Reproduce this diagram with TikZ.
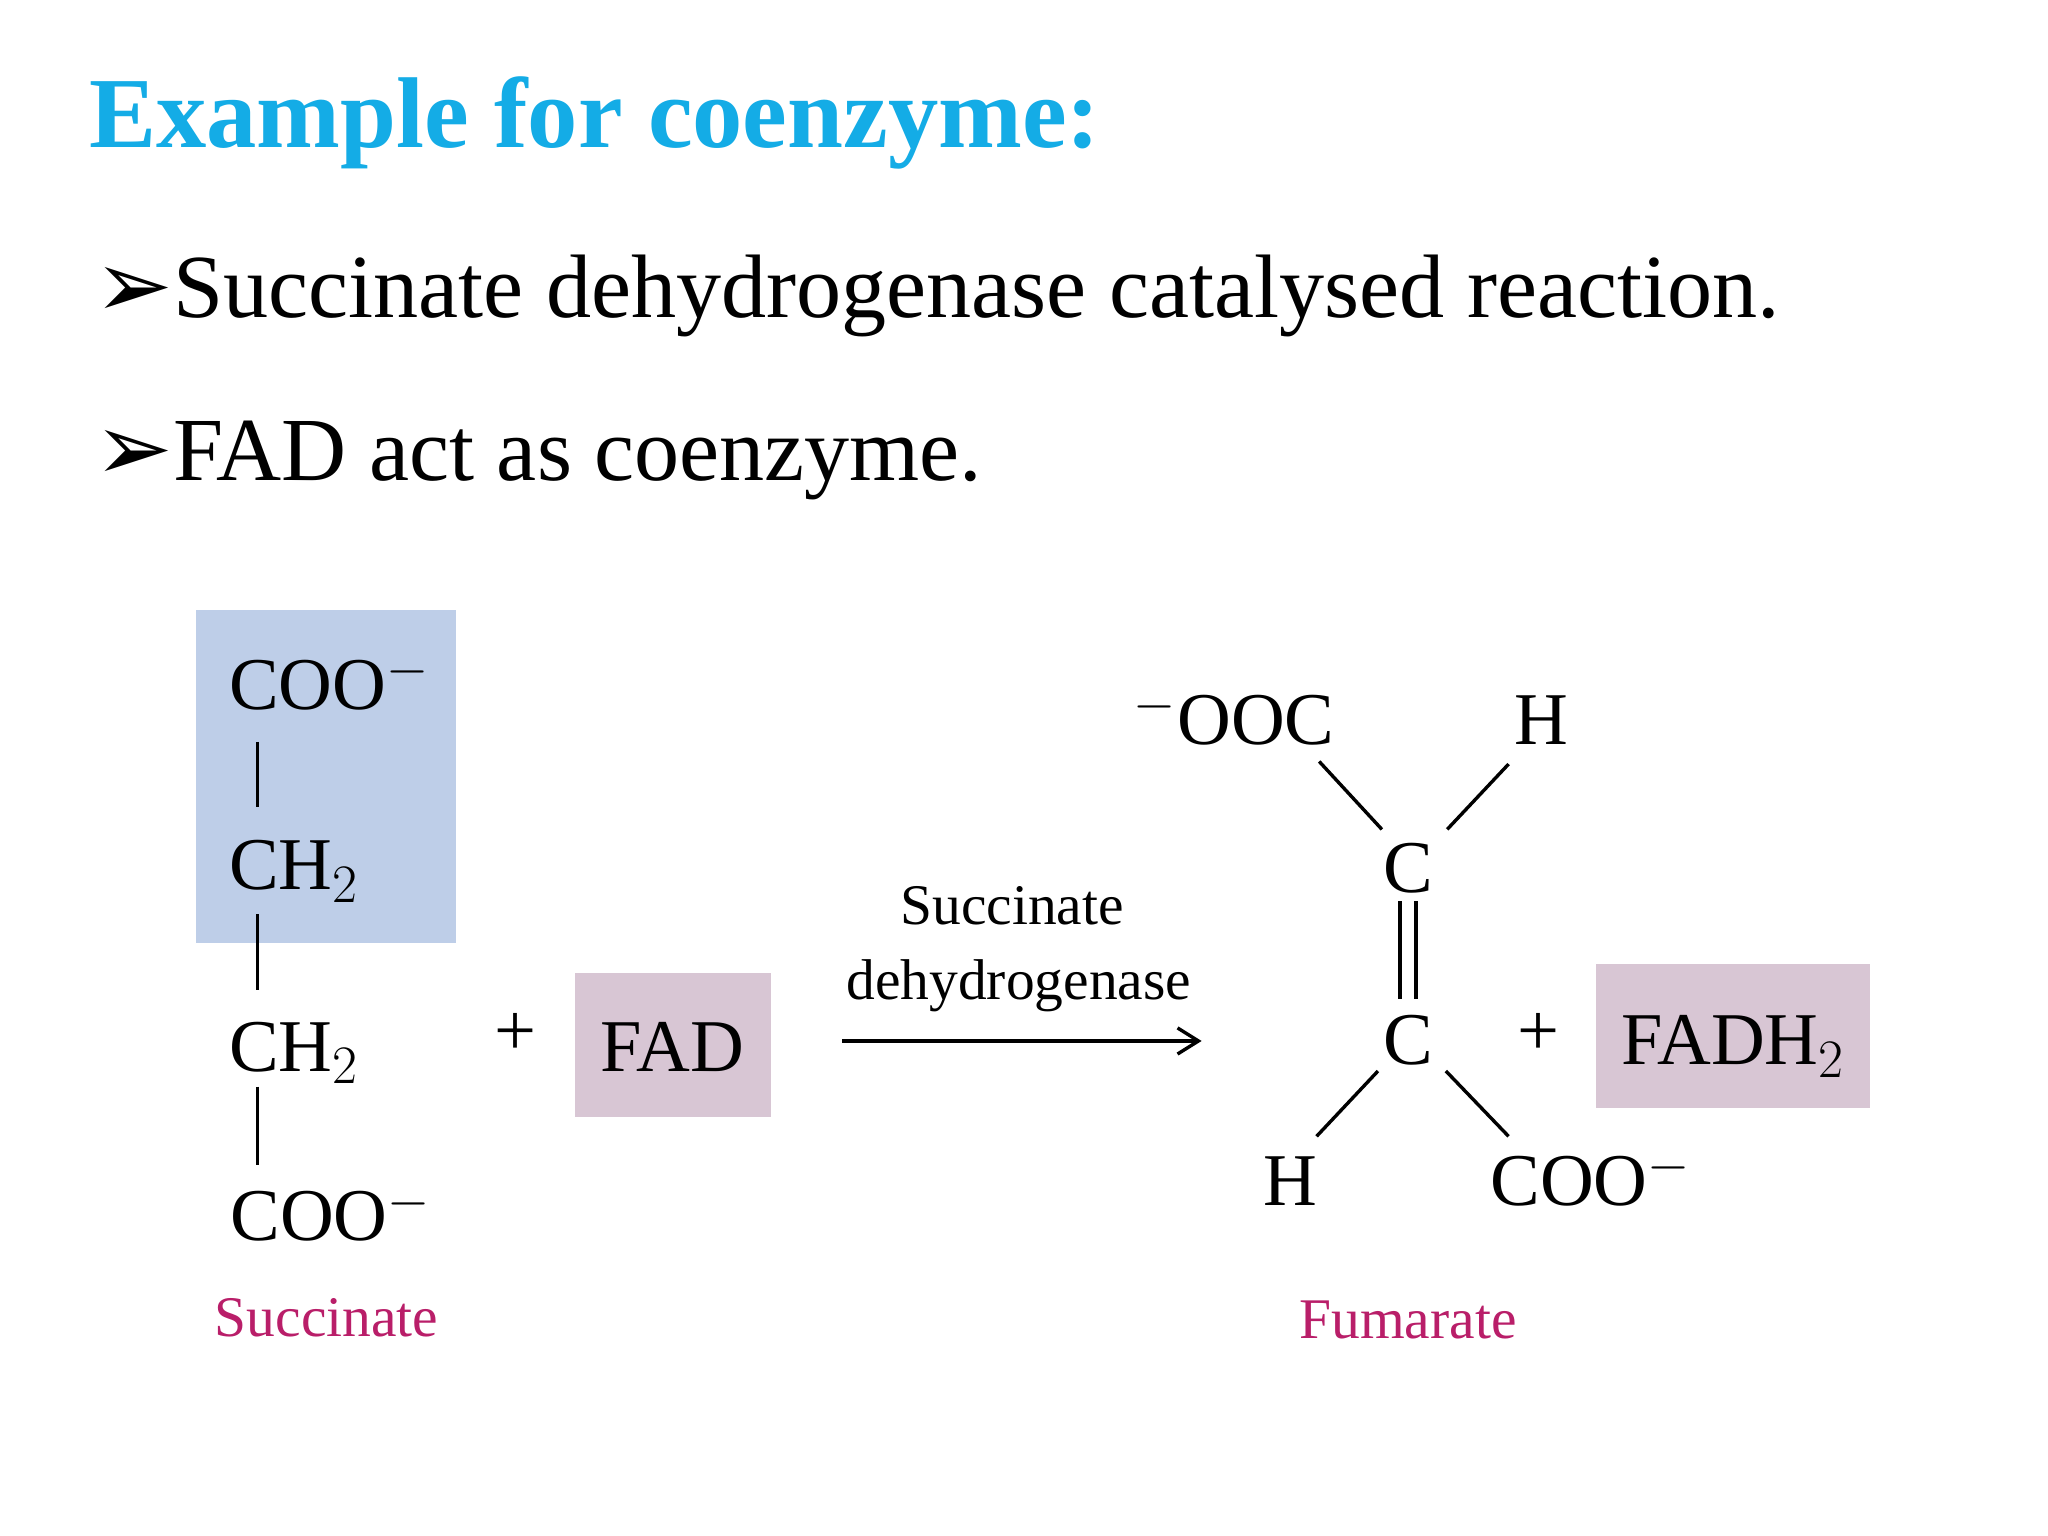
\documentclass[tikz,border=0pt]{standalone}
\usetikzlibrary{arrows.meta}
\usepackage{fontspec}
\setmainfont{Liberation Serif}
\newfontfamily\symf{DejaVu Sans}
\definecolor{ttl}{RGB}{20,172,230}
\definecolor{bluebox}{RGB}{190,206,232}
\definecolor{pinkbox}{RGB}{216,198,212}
\definecolor{mag}{RGB}{185,30,105}
\begin{document}
\begin{tikzpicture}[x=0.5pt,y=-0.5pt,
  chem/.style={font=\fontsize{28.5}{28.5}\selectfont,inner sep=0pt,anchor=base},
  lbl/.style={font=\fontsize{22}{22}\selectfont,text=mag,inner sep=0pt,anchor=base},
  body/.style={font=\fontsize{34.5}{34.5}\selectfont,inner sep=0pt,anchor=base west},
  bond/.style={line width=1.3pt}]
\useasboundingbox[fill=white] (0,0) rectangle (1568,1176);
\node[font=\bfseries\fontsize{38.5}{38.5}\selectfont,text=ttl,inner sep=0pt,anchor=base west] (title) at (68,113) {Example for coenzyme:};
\node[body] (b1) at (72,243) {{\symf\fontsize{36}{36}\selectfont ➢}Succinate dehydrogenase catalysed reaction.};
\node[body] (b2) at (72,368) {{\symf\fontsize{36}{36}\selectfont ➢}FAD act as coenzyme.};
% succinate
\fill[bluebox] (150,467) rectangle (349,722);
\node[chem,anchor=base west] (s1) at (175,543) {COO$^{-}$};
\node[chem,anchor=base west] (s2) at (175,681) {CH$_2$};
\node[chem,anchor=base west] (s3) at (175,820) {CH$_2$};
\node[chem,anchor=base west] (s4) at (176,950) {COO$^{-}$};
\coordinate (v1a) at (197,568); \coordinate (v1b) at (197,618);
\coordinate (v2a) at (197,700); \coordinate (v2b) at (197,758);
\coordinate (v3a) at (197,832); \coordinate (v3b) at (197,892);
\draw[bond] (v1a)--(v1b); \draw[bond] (v2a)--(v2b); \draw[bond] (v3a)--(v3b);
\node[lbl] (succ) at (250,1023) {Succinate};
\node[chem] (p1) at (395,808) {+};
\fill[pinkbox] (440,745) rectangle (590,855);
\node[chem] (fad) at (515,820) {FAD};
% arrow
\coordinate (a1) at (645,797); \coordinate (a2) at (920,797);
\draw[line width=1.3pt,-{Straight Barb[length=8pt,width=10pt]}] (a1)--(a2);
\node[chem,font=\fontsize{22}{22}\selectfont] (e1) at (775,708) {Succinate};
\node[chem,font=\fontsize{22}{22}\selectfont] (e2) at (780,765) {dehydrogenase};
% fumarate
\node[chem] (f1) at (945,570) {$^{-}$OOC};
\node[chem] (f2) at (1180,570) {H};
\node[chem] (c1) at (1078,683) {C};
\node[chem] (c2) at (1078,815) {C};
\node[chem] (f3) at (988,923) {H};
\node[chem] (f4) at (1218,923) {COO$^{-}$};
\draw[bond] (1072,690)--(1072,765); \draw[bond] (1084,690)--(1084,765);
\draw[bond] (1010,583)--(1058,635);
\draw[bond] (1155,585)--(1108,635);
\draw[bond] (1055,820)--(1008,870);
\draw[bond] (1107,820)--(1155,870);
\node[chem] (p2) at (1178,808) {+};
\fill[pinkbox] (1222,738) rectangle (1432,848);
\node[chem] (fadh) at (1327,815) {FADH$_2$};
\node[lbl] (fum) at (1078,1025) {Fumarate};
\end{tikzpicture}
\end{document}
